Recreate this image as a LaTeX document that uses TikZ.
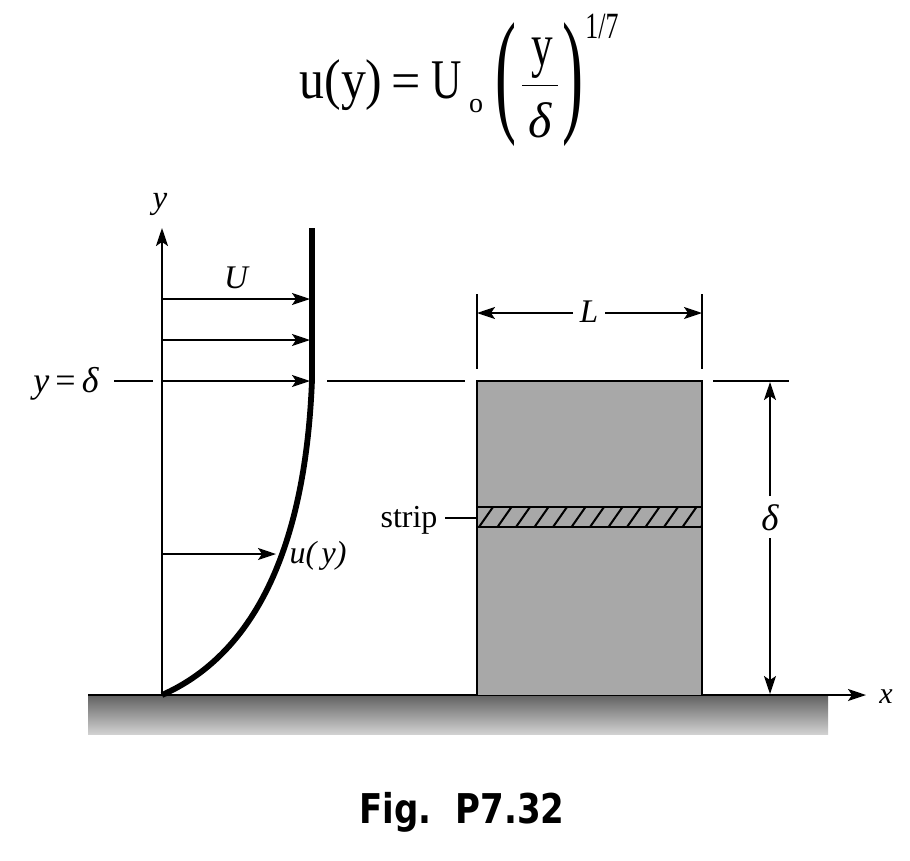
\documentclass[tikz,border=0pt]{standalone}
\usepackage{fontspec}
\usepackage{graphicx}
\setmainfont{Liberation Serif}
\newfontfamily\figfont{DejaVu Sans}
\usetikzlibrary{arrows.meta}
\definecolor{fillgray}{gray}{0.66}
\tikzset{
  lbl/.style={inner sep=0pt,outer sep=0pt,anchor=base},
  thin line/.style={line width=2pt,black},
  arr/.style={thin line,-{Stealth[length=18pt,width=12pt,inset=4pt]}},
  eq/.style={lbl,font=\fontsize{56pt}{58pt}\selectfont},
  var/.style={lbl,font=\fontsize{33pt}{35pt}\selectfont\itshape},
}
\begin{document}
\begin{tikzpicture}[x=1pt,y=-1pt]
\useasboundingbox (0,0) rectangle (910,860);
\fill[white] (0,0) rectangle (910,860);
% formula
\node[eq] (eqa) at (341,98) {\scalebox{0.89}[1]{u(y)}};
\node[eq,font=\fontsize{52pt}{54pt}\selectfont] (eqb) at (406,98) {=};
\node[eq] (eqc) at (447,98) {\scalebox{0.75}[1]{U}};
\node[lbl,font=\fontsize{28pt}{30pt}\selectfont] (eqd) at (476,112) {o};
\node[lbl,anchor=center] (eql) at (506,85) {\resizebox*{21pt}{124pt}{(}};
\node[eq,font=\fontsize{60pt}{62pt}\selectfont] (eqy) at (542,65) {\scalebox{0.72}[1]{y}};
\node[lbl,font=\fontsize{50pt}{52pt}\selectfont\itshape] (eqe) at (540,137) {δ};
\node[lbl,anchor=center] (eqr) at (573,85) {\resizebox*{21pt}{124pt}{)}};
\node[lbl,font=\fontsize{37pt}{39pt}\selectfont] (eqp) at (602,38) {\scalebox{0.7}[1]{1/7}};
\coordinate (fracl) at (522,85.5);
\coordinate (fracr) at (558,85.5);
\draw[line width=1.7pt] (fracl) -- (fracr);
% ground
\shade[top color=black!62,bottom color=black!18] (88,695) rectangle (828,734);
\coordinate (gl) at (88,695);
\coordinate (xend) at (866,695);
\draw[arr] (gl) -- (xend);
\node[var,font=\fontsize{30pt}{32pt}\selectfont\itshape] (xl) at (886,703) {x};
% block
\fill[fillgray] (477,381) rectangle (702,695);
\draw[line width=2.4pt] (477,695) -- (477,381) -- (702,381) -- (702,695);
% strip
\draw[line width=2.4pt] (477,507) -- (702,507);
\draw[line width=2.4pt] (477,527) -- (702,527);
\begin{scope}
\clip (477,507) rectangle (702,527);
\foreach \xx in {479,497.5,...,710}{
  \draw[line width=2pt] (\xx,527) -- (\xx+14,507);
}
\end{scope}
\node[lbl,font=\fontsize{32pt}{34pt}\selectfont] (stripl) at (409,527) {strip};
\coordinate (stripa) at (445,518);
\coordinate (stripb) at (477,518);
\draw[thin line,line width=2.2pt] (stripa) -- (stripb);
% y axis
\coordinate (o) at (162,695);
\coordinate (ytop) at (162,228);
\draw[arr] (o) -- (ytop);
\node[var] (yl) at (160,208) {y};
% profile
\draw[line width=6.7pt,line cap=butt] (312,228) -- (312,381);
\draw[line width=5.8pt,line cap=butt] (312,380) .. controls (308,480) and (286,640) .. (162,695);
% velocity arrows
\foreach \n/\yy/\xe in {a/299/310,b/340/310,c/381/310,d/554/276}{
  \coordinate (s\n) at (162,\yy);
  \coordinate (e\n) at (\xe,\yy);
  \draw[arr] (s\n) -- (e\n);
}
\node[var] (ul) at (236,288) {U};
\node[var,font=\fontsize{32pt}{34pt}\selectfont\itshape] (uy) at (318,563) {u(\,y)};
% y=delta
\node[var,font=\fontsize{36pt}{38pt}\selectfont\itshape] (yd) at (66,392) {y\,\textup{=}\,δ};
\coordinate (da) at (114,381); \coordinate (db) at (153,381);
\coordinate (dc) at (327,381); \coordinate (dd) at (465,381);
\coordinate (de) at (713,381); \coordinate (df) at (789,381);
\draw[thin line] (da) -- (db);
\draw[thin line] (dc) -- (dd);
\draw[thin line] (de) -- (df);
% L dimension
\coordinate (la) at (477,294); \coordinate (lb) at (477,369);
\coordinate (lc) at (702,294); \coordinate (ld) at (702,369);
\draw[thin line] (la) -- (lb);
\draw[thin line] (lc) -- (ld);
\node[var] (L) at (589,322) {L};
\coordinate (l1) at (477,313); \coordinate (l2) at (702,313);
\coordinate (l1s) at (573,313); \coordinate (l2s) at (605,313);
\draw[arr] (l1s) -- (l1);
\draw[arr] (l2s) -- (l2);
% delta dimension
\node[lbl,font=\fontsize{37pt}{39pt}\selectfont\itshape] (dl) at (770,530) {δ};
\coordinate (d1) at (770,382); \coordinate (d2) at (770,694);
\coordinate (d1s) at (770,496); \coordinate (d2s) at (770,538);
\draw[arr] (d1s) -- (d1);
\draw[arr] (d2s) -- (d2);
% caption
\node[lbl,font=\figfont\bfseries\fontsize{41pt}{43pt}\selectfont] (cap) at (462,823) {\scalebox{0.83}[1]{Fig.\ \ P7.32}};
\end{tikzpicture}
\end{document}
